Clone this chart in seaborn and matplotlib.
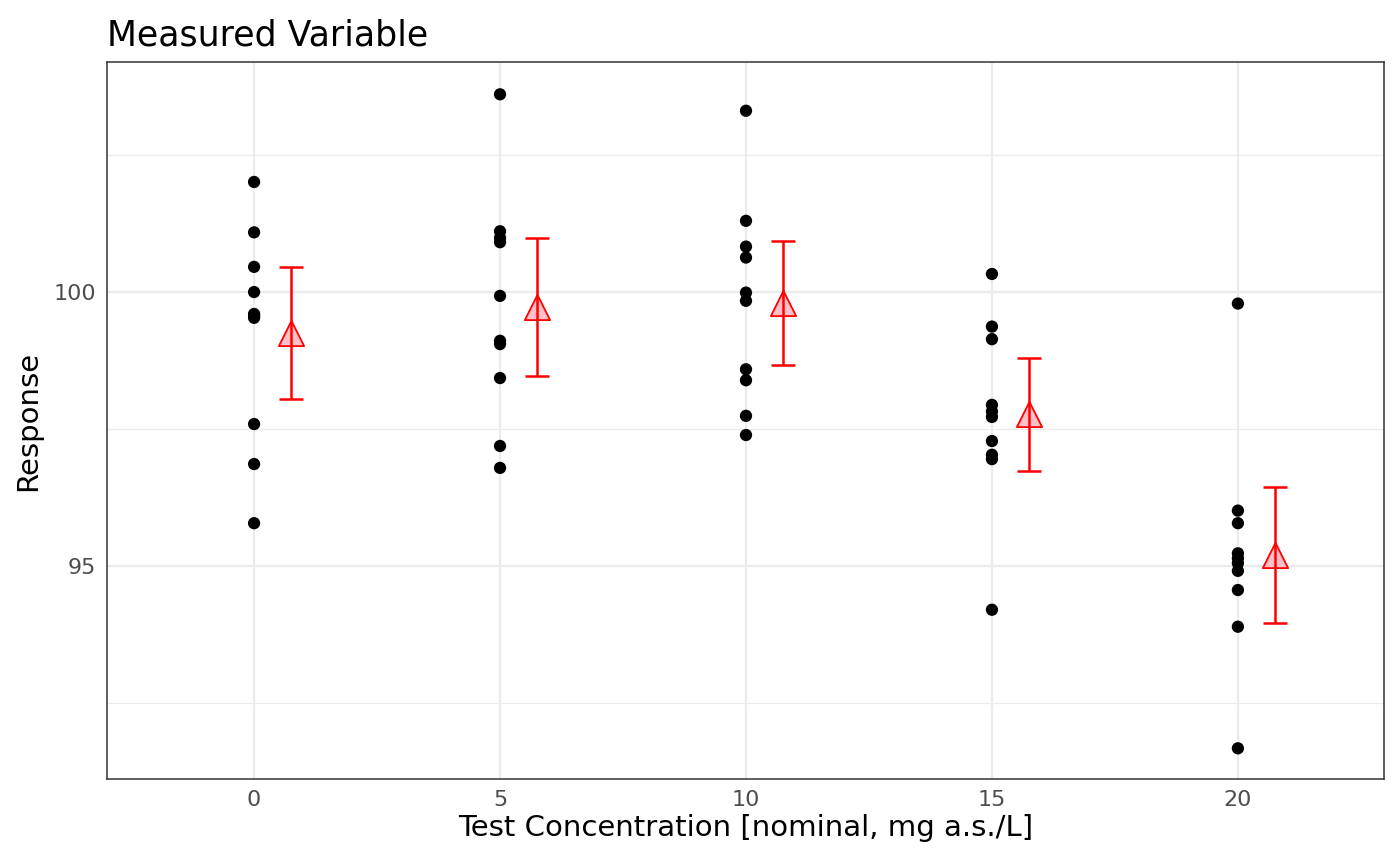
import numpy as np
import pandas as pd
import matplotlib
matplotlib.use("Agg")
import matplotlib.pyplot as plt
import seaborn as sns

conc = [0, 5, 10, 15, 20]
resp_0 = [102.01, 101.09, 100.46, 100.0, 99.60, 99.57, 99.53, 97.59, 96.86, 95.78]
resp_5 = [103.61, 101.11, 100.99, 100.91, 99.93, 99.11, 99.05, 98.43, 97.19, 96.79]
resp_10 = [103.31, 101.30, 100.83, 100.63, 99.99, 99.84, 98.59, 98.39, 97.74, 97.39]
resp_15 = [100.33, 99.37, 99.14, 97.94, 97.82, 97.72, 97.28, 97.03, 96.95, 94.20]
resp_20 = [99.79, 96.01, 95.78, 95.23, 95.14, 95.05, 94.91, 94.56, 93.89, 91.67]

# Mittelwerte und Fehlerbalken (halbe Breite)
means = [99.25, 99.72, 99.80, 97.77, 95.20]
half_ci = [1.20, 1.26, 1.13, 1.03, 1.25]
offset = 0.75

rows = []
for c, vals in zip(conc, [resp_0, resp_5, resp_10, resp_15, resp_20]):
    for v in vals:
        rows.append({"conc": c, "resp": v})
df = pd.DataFrame(rows)
summ = pd.DataFrame({"conc": np.array(conc) + offset, "mean": means, "ci": half_ci})

sns.set_theme(style="whitegrid")
plt.rcParams["font.family"] = ["DejaVu Sans"]
plt.rcParams["text.color"] = "black"
plt.rcParams["axes.labelcolor"] = "black"

fig = plt.figure(figsize=(14, 8.65), dpi=100)
ax = fig.add_axes([107 / 1400, 1 - 779 / 865, (1384 - 107) / 1400, (779 - 62) / 865])

sns.scatterplot(data=df, x="conc", y="resp", color="black", s=78, edgecolor="none", ax=ax, zorder=3)

# Dreiecke (Mittelwert) und Fehlerbalken darueber
sns.scatterplot(data=summ, x="conc", y="mean", marker="^", s=330, color="#ffc0c8",
                edgecolor="red", linewidth=1.3, ax=ax, zorder=4)
ax.errorbar(summ["conc"], summ["mean"], yerr=summ["ci"], fmt="none", ecolor="red",
            elinewidth=1.8, capsize=8.6, capthick=1.8, zorder=5)

ax.set_xlim(-2.99, 22.97)
ax.set_ylim(91.11, 104.2)
ax.set_xticks([0, 5, 10, 15, 20])
ax.set_yticks([95, 100])
ax.set_yticks([92.5, 97.5, 102.5], minor=True)

ax.grid(which="major", color="#ebebeb", linewidth=1.6)
ax.grid(which="minor", axis="y", color="#ebebeb", linewidth=0.9)
ax.set_axisbelow(True)

for s in ax.spines.values():
    s.set_color("#333333")
    s.set_linewidth(1.1)

ax.tick_params(axis="both", which="major", length=5, width=1.3, color="#333333",
               labelsize=16, labelcolor="#4d4d4d", pad=3)
ax.tick_params(axis="y", which="minor", length=0)

ax.set_title("Measured Variable", loc="left", fontsize=25, pad=12, color="black")
ax.set_xlabel("Test Concentration [nominal, mg a.s./L]", fontsize=21, labelpad=3)
ax.set_ylabel("Response", fontsize=21, labelpad=8)

fig.savefig("out.png", dpi=100)
